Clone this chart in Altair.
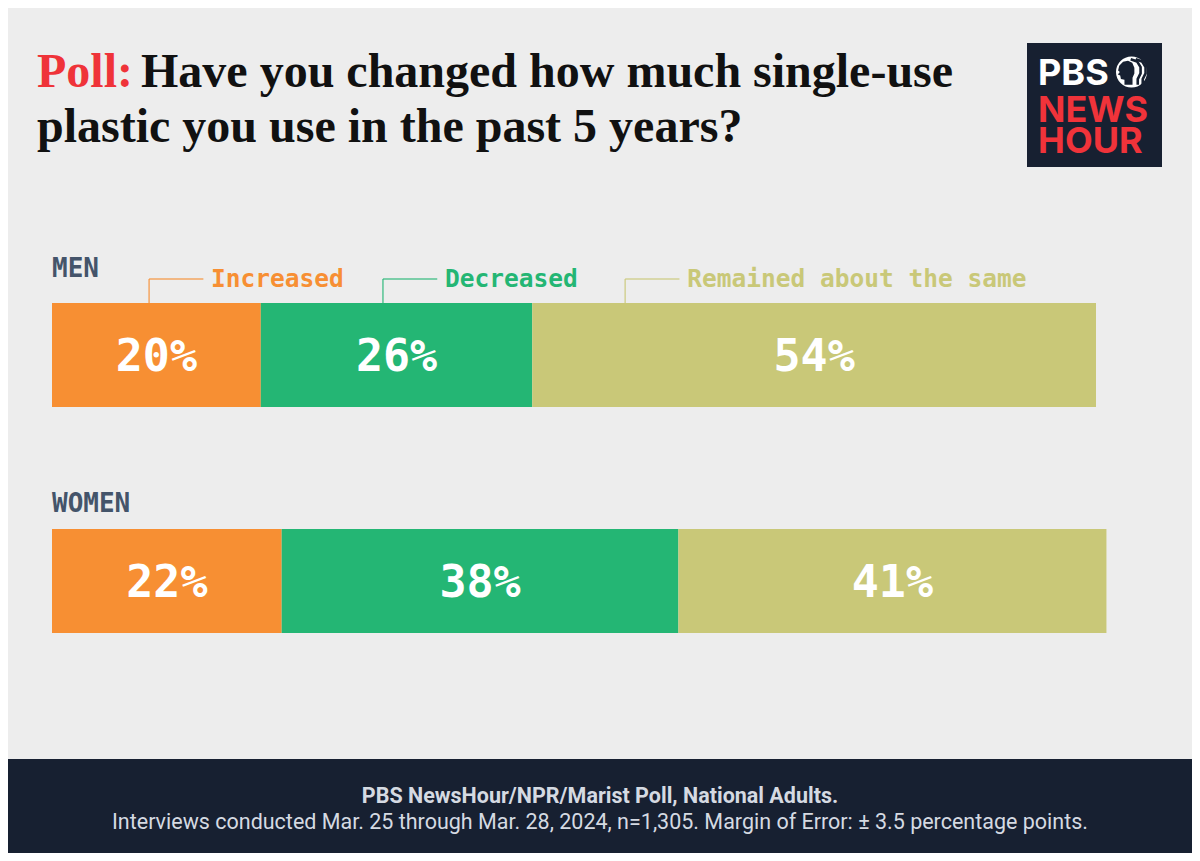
import altair as alt
import pandas as pd

# ---------------- data ----------------
groups = ["MEN", "WOMEN"]
responses = ["Increased", "Decreased", "Remained about the same"]
men_values = [20, 26, 54]
women_values = [22, 38, 41]
colors = ["#F78F33", "#24B674", "#C9C878"]

# where each response's leader line sits on the MEN row (in % units of the bar axis)
leader_at = [9.3, 31.7, 54.9]
LEADER_LEN = 5.2  # horizontal length of each leader, in % units

title_red = "Poll:"
title_line1 = "Have you changed how much single-use"
title_line2 = "plastic you use in the past 5 years?"
source_line1 = "PBS NewsHour/NPR/Marist Poll, National Adults."
source_line2 = ("Interviews conducted Mar. 25 through Mar. 28, 2024, n=1,305. "
                "Margin of Error:  \u00b1 3.5 percentage points.")

# ---------------- tables ----------------
rows = []
for g, vals in zip(groups, [men_values, women_values]):
    start = 0
    for r, v in zip(responses, vals):
        rows.append(dict(group=g, response=r, value=v, start=start,
                         end=start + v, mid=start + v / 2, label=f"{v}%"))
        start += v
df = pd.DataFrame(rows)

ann = pd.DataFrame({"response": responses, "at": leader_at,
                    "end": [a + LEADER_LEN for a in leader_at]})
one = pd.DataFrame({"a": [0]})

# ---------------- scales ----------------
X = alt.Scale(domain=[0, 100], range=[44, 1088], nice=False, zero=False)
Y = alt.Scale(domain=groups, range=[295, 625], paddingInner=0.54, paddingOuter=0)
C = alt.Scale(domain=responses, range=colors)

MONO = "DejaVu Sans Mono"
SERIF = "Liberation Serif"
SANS = "Roboto"
NAVY = "#172031"

bars = alt.Chart(df).mark_bar().encode(
    x=alt.X("start:Q", scale=X, axis=None),
    x2="end:Q",
    y=alt.Y("group:N", scale=Y, axis=None),
    color=alt.Color("response:N", scale=C, legend=None),
)

pct = alt.Chart(df).mark_text(
    font=MONO, fontSize=45, fontWeight="bold", color="white", baseline="middle", dy=2
).encode(
    x=alt.X("mid:Q", scale=X, axis=None),
    y=alt.Y("group:N", scale=Y, axis=None),
    text="label:N",
)

lead_v = alt.Chart(ann).mark_rule(strokeWidth=1.5, opacity=0.75).encode(
    x=alt.X("at:Q", scale=X, axis=None),
    y=alt.value(271), y2=alt.value(295),
    color=alt.Color("response:N", scale=C, legend=None),
)
lead_h = alt.Chart(ann).mark_rule(strokeWidth=1.5, opacity=0.75).encode(
    x=alt.X("at:Q", scale=X, axis=None), x2="end:Q",
    y=alt.value(271),
    color=alt.Color("response:N", scale=C, legend=None),
)
lead_t = alt.Chart(ann).mark_text(
    font=MONO, fontSize=24.5, fontWeight="bold", align="left", baseline="alphabetic", dx=62
).encode(
    x=alt.X("at:Q", scale=X, axis=None),
    y=alt.value(279),
    text="response:N",
    color=alt.Color("response:N", scale=C, legend=None),
)

men_lbl = alt.Chart(one).mark_text(
    text=groups[0], font=MONO, fontSize=26, fontWeight="bold", color="#44546A",
    align="left", baseline="alphabetic"
).encode(x=alt.value(44), y=alt.value(269))
women_lbl = alt.Chart(one).mark_text(
    text=groups[1], font=MONO, fontSize=26, fontWeight="bold", color="#44546A",
    align="left", baseline="alphabetic"
).encode(x=alt.value(44), y=alt.value(504))

# title
t_red = alt.Chart(one).mark_text(
    text=title_red, font=SERIF, fontSize=48, fontWeight="bold", color="#EF3339",
    align="left", baseline="alphabetic"
).encode(x=alt.value(29), y=alt.value(79))
t_1 = alt.Chart(one).mark_text(
    text=title_line1, font=SERIF, fontSize=48, fontWeight="bold", color="#111111",
    align="left", baseline="alphabetic"
).encode(x=alt.value(133), y=alt.value(79))
t_2 = alt.Chart(one).mark_text(
    text=title_line2, font=SERIF, fontSize=48, fontWeight="bold", color="#111111",
    align="left", baseline="alphabetic"
).encode(x=alt.value(29), y=alt.value(134))

# logo
logo_bg = alt.Chart(one).mark_rect(color=NAVY).encode(
    x=alt.value(1019), x2=alt.value(1154), y=alt.value(35), y2=alt.value(159))
logo_pbs = alt.Chart(one).mark_text(
    text="PBS", font="Inter", fontSize=36, fontWeight="bold", color="white",
    align="left", baseline="alphabetic"
).encode(x=alt.value(1030), y=alt.value(77))
logo_news = alt.Chart(one).mark_text(
    text=["NEWS", "HOUR"], lineHeight=31, font="Inter", fontSize=36, fontWeight="bold",
    color="#F0333A", align="left", baseline="alphabetic"
).encode(x=alt.value(1030), y=alt.value(114))
logo_circle = alt.Chart(one).mark_point(
    shape="circle", filled=True, fill="white", fillOpacity=1, opacity=1, size=961,
    strokeWidth=0
).encode(x=alt.value(1123.5), y=alt.value(64))
HEAD = ("M -0.25 0.9 L -0.25 0.55 L -0.5 0.5 L -0.55 0.25 L -0.72 0.18 L -0.58 0.0 "
        "L -0.7 -0.1 L -0.62 -0.45 L -0.35 -0.72 L 0.0 -0.8 L 0.3 -0.65 L 0.45 -0.3 "
        "L 0.45 0.1 L 0.32 0.4 L 0.32 0.9 Z")
logo_head = alt.Chart(one).mark_point(
    shape=HEAD, filled=True, fill=NAVY, fillOpacity=1, opacity=1, size=800,
    strokeWidth=0
).encode(x=alt.value(1120), y=alt.value(64))
ARC = "M -0.2 -0.9 L 0.25 -0.75 L 0.5 -0.35 L 0.5 0.1 L 0.3 0.5 L 0.3 0.9"
logo_arc1 = alt.Chart(one).mark_point(
    shape=ARC, filled=False, stroke=NAVY, opacity=1, size=800, strokeWidth=2.6
).encode(x=alt.value(1125.5), y=alt.value(64))
logo_arc2 = alt.Chart(one).mark_point(
    shape=ARC, filled=False, stroke=NAVY, opacity=1, size=800, strokeWidth=2.6
).encode(x=alt.value(1130.5), y=alt.value(64))

# footer
foot_bg = alt.Chart(one).mark_rect(color=NAVY).encode(
    x=alt.value(0), x2=alt.value(1184), y=alt.value(751), y2=alt.value(845))
foot_1 = alt.Chart(one).mark_text(
    text=source_line1, font=SANS, fontSize=21.5, fontWeight="bold", color="#D5DAE2",
    align="center", baseline="middle"
).encode(x=alt.value(592), y=alt.value(789))
foot_2 = alt.Chart(one).mark_text(
    text=source_line2, font=SANS, fontSize=21.5, color="#D5DAE2",
    align="center", baseline="middle"
).encode(x=alt.value(592), y=alt.value(815))

chart = alt.layer(
    foot_bg, bars, pct, lead_v, lead_h, lead_t, men_lbl, women_lbl,
    t_red, t_1, t_2, logo_bg, logo_pbs, logo_news,
    logo_circle, logo_head, logo_arc1, logo_arc2, foot_1, foot_2,
).properties(
    width=1184, height=845,
    autosize=alt.AutoSizeParams(type="none"),
    padding=0,
    background="#EDEDED",
).configure_view(stroke=None)

chart.save("out.html", embed_options={"renderer": "svg", "actions": False})
